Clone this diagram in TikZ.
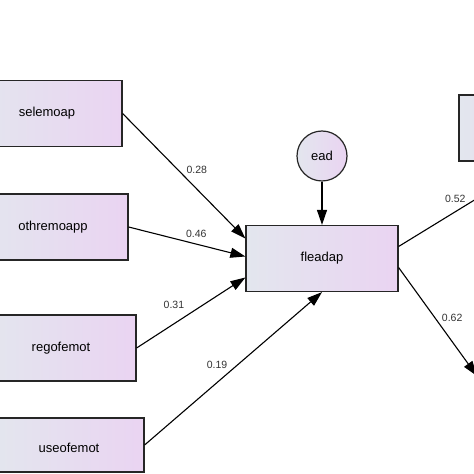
\documentclass[tikz,border=0pt]{standalone}
\usepackage{fontspec}
\setmainfont{Liberation Sans}
\usepackage{tikz}
\usetikzlibrary{arrows.meta}
\usetikzlibrary{positioning}

\definecolor{boxleft}{HTML}{E3E6EE}
\definecolor{boxright}{HTML}{EAD4F2}

\begin{document}
\begin{tikzpicture}[x=1pt, y=1pt,
		obs/.style={rectangle, draw=black!85, line width=1.2pt, left color=boxleft, right color=boxright, minimum width=150pt, minimum height=66pt, font=\fontsize{13}{15}\selectfont},
		lat/.style={circle, draw=black!85, line width=1.2pt, left color=boxleft, right color=boxright, minimum size=50pt, inner sep=0pt, font=\fontsize{13}{15}\selectfont},
		effect/.style={line width=1.1pt, -{Triangle[length=15pt,width=10pt]}},
		wt/.style={font=\fontsize{10.5}{12}\selectfont, text=black!80, inner sep=2pt}]
				\useasboundingbox (0,0) rectangle (474,474);
				
				\node[obs] (selemoap) at (47,360.5) {selemoap};
				\node[obs] (othremoapp) at (53,247) {othremoapp};
				\node[obs] (regofemot) at (61,126) {regofemot};
				\node[obs, minimum height=54pt, text height=15pt] (useofemot) at (69,29) {useofemot};
				\node[obs, minimum width=152pt] (fleadap) at (322,215.5) {fleadap};
				\node[lat] (ead) at (322,318) {ead};
				\node[obs] (rtop) at (534,346) {};
				
				\coordinate (out52) at (512,297);
				\coordinate (out62) at (477,98);
				
				\draw[effect] (ead) -- (fleadap);
				\draw[effect] (selemoap.east) -- ([yshift=20pt]fleadap.west) node[wt, pos=0.5, above right] {0.28};
				\draw[effect] (othremoapp.east) -- ([yshift=2pt]fleadap.west) node[wt, pos=0.58, above=4pt] {0.46};
				\draw[effect] (regofemot.east) -- ([yshift=-19pt]fleadap.west) node[wt, pos=0.46, above left=4pt and 0pt] {0.31};
				\draw[effect] (useofemot.east) -- (fleadap.south) node[wt, pos=0.48, above left] {0.19};
				\draw[effect] ([yshift=12pt]fleadap.east) -- (out52) node[wt, pos=0.5, above=7pt] {0.52};
				\draw[effect] ([yshift=-9pt]fleadap.east) -- (out62) node[wt, pos=0.52, above right] {0.62};
			\end{tikzpicture}
\end{document}
